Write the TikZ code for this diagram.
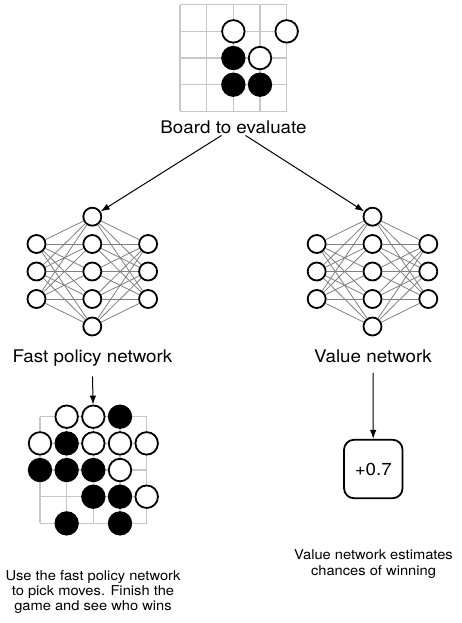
\documentclass[tikz,border=0pt]{standalone}
\usepackage{fontspec}
\newfontfamily\hv[FakeStretch=1.08]{TeX Gyre Heros}
\usetikzlibrary{arrows.meta}
\begin{document}
\begin{tikzpicture}[x=1pt,y=-1pt,
  gridln/.style={draw=black!22, line width=1.4pt},
  wst/.style={circle, draw=black, fill=white, line width=1.8pt, minimum size=22.5pt, inner sep=0pt},
  bst/.style={wst, fill=black},
  neuron/.style={circle, draw=black, fill=white, line width=1.8pt, minimum size=18pt, inner sep=0pt},
  syn/.style={draw=black!50, line width=0.8pt},
  arr/.style={draw=black, line width=1pt, -{Latex[length=9pt,width=6.5pt]}},
  lbl/.style={font=\hv\fontsize{17.4}{20}\selectfont, inner sep=2pt},
  small/.style={font=\hv\fontsize{13.6}{15.2}\selectfont, inner sep=0pt, align=center},
  valbox/.style={draw=black, line width=1.8pt, rounded corners=10pt, minimum size=58.5pt, inner sep=0pt}
]
\useasboundingbox (0,0) rectangle (462,623);

% ---- top board ----
\foreach \k in {0,...,4} {
  \draw[gridln] (180+26.67*\k,4.7) -- (180+26.67*\k,111.4);
  \draw[gridln] (180,4.7+26.67*\k) -- (286.7,4.7+26.67*\k);
}
\foreach \c/\r/\s in {2/1/wst, 4/1/wst, 2/2/bst, 3/2/wst, 2/3/bst, 3/3/bst}
  \node[\s] (t\r\c) at (180+26.67*\c, 4.7+26.67*\r) {};

\node[lbl, anchor=base] (board) at (233.5,133) {Board to evaluate};

% ---- networks ----
\foreach \p/\cx in {a/92.3, b/372.5} {
  \foreach \i/\y in {1/216.7,2/244,3/271.5,4/299,5/326.5}
    \node[neuron] (\p m\i) at (\cx,\y) {};
  \foreach \i/\y in {1/244,2/271.5,3/299} {
    \node[neuron] (\p l\i) at (\cx-55.8,\y) {};
    \node[neuron] (\p r\i) at (\cx+55.8,\y) {};
  }
  \foreach \i in {1,2,3} \foreach \j in {1,...,5} {
    \draw[syn] (\p l\i) -- (\p m\j);
    \draw[syn] (\p m\j) -- (\p r\i);
  }
}

\draw[arr] ([xshift=-12pt]board.south) -- (am1);
\draw[arr] ([xshift=12pt]board.south) -- (bm1);

\node[lbl, anchor=base] (fast) at (92.5,362.5) {Fast policy network};
\node[lbl, anchor=base] (value) at (373,362.5) {Value network};

% ---- bottom board ----
\foreach \k in {0,...,4} {
  \draw[gridln] (40+26.67*\k,416.7) -- (40+26.67*\k,523.4);
  \draw[gridln] (40,416.7+26.67*\k) -- (146.7,416.7+26.67*\k);
}
\foreach \c/\r/\s in {1/0/wst, 2/0/wst, 3/0/bst,
                      0/1/wst, 1/1/bst, 2/1/wst, 3/1/wst, 4/1/wst,
                      0/2/bst, 1/2/bst, 2/2/bst, 3/2/wst,
                      2/3/bst, 3/3/bst, 4/3/wst,
                      1/4/bst, 3/4/bst}
  \node[\s] (p\r\c) at (40+26.67*\c, 416.7+26.67*\r) {};

\draw[arr] ([yshift=-8pt]fast.south) -- (p02);

% ---- value box ----
\node[valbox, lbl] (val) at (373.3,469) {+0.7};
\draw[arr] ([yshift=-8pt]value.south) -- (val);

% ---- notes ----
\node[small, anchor=base] (note1) at (93,610.5) {Use the fast policy network\\to pick moves. Finish the\\game and see who wins};
\node[small, anchor=base] (note2) at (373.5,575) {Value network estimates\\chances of winning};
\end{tikzpicture}
\end{document}
